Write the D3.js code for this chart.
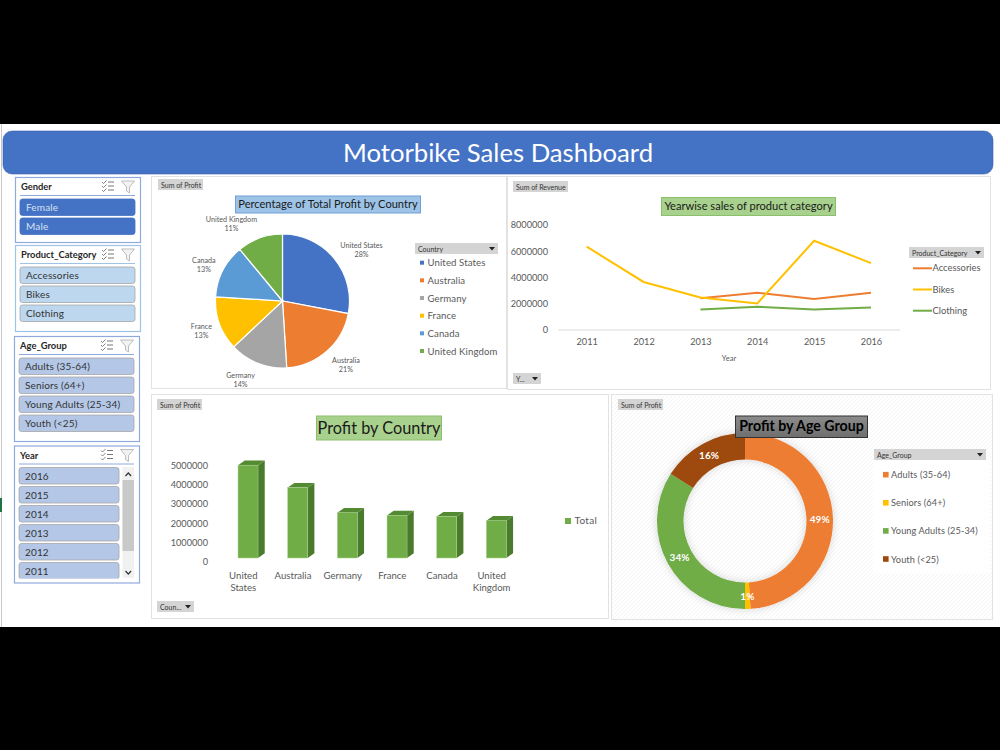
<!DOCTYPE html>
<html>
<head>
<meta charset="utf-8">
<title>Motorbike Sales Dashboard</title>
<script src="https://cdn.jsdelivr.net/npm/d3@7/dist/d3.min.js"></script>
<style>
    html, body { margin: 0; padding: 0; background: #000; }
    svg { display: block; font-family: Lato, "Open Sans", sans-serif; }
</style>
</head>
<body>
<div id="chart"></div>
<script>
// Chart data
const countries = ['United States', 'Australia', 'Germany', 'France', 'Canada', 'United Kingdom'];
const countryShare = [28, 21, 14, 13, 13, 11];
const countryProfit = [4800000, 3640000, 2340000, 2200000, 2140000, 1930000];
const countryColors = ['#4472C4', '#ED7D31', '#A5A5A5', '#FFC000', '#5B9BD5', '#70AD47'];

const years = ['2011', '2012', '2013', '2014', '2015', '2016'];
const accessories = [null, null, 2420000, 2830000, 2370000, 2830000];
const bikes = [6350000, 3660000, 2470000, 2020000, 6800000, 5100000];
const clothing = [null, null, 1560000, 1770000, 1560000, 1720000];
const revenueTicks = [0, 2000000, 4000000, 6000000, 8000000];
const profitTicks = [0, 1000000, 2000000, 3000000, 4000000, 5000000];

const ageGroups = ['Adults (35-64)', 'Seniors (64+)', 'Young Adults (25-34)', 'Youth (<25)'];
const ageShare = [49, 1, 34, 16];
const ageColors = ['#ED7D31', '#FFC000', '#70AD47', '#9E480E'];

const genders = ['Female', 'Male'];
const productCategories = ['Accessories', 'Bikes', 'Clothing'];

const svg = d3.select('#chart').append('svg').attr('width', 1000).attr('height', 750);
const defs = svg.append('defs');

// Faint hatch behind the donut panel
const hatch = defs.append('pattern').attr('id', 'hatch')
    .attr('width', 4).attr('height', 4).attr('patternUnits', 'userSpaceOnUse');
hatch.append('rect').attr('width', 4).attr('height', 4).attr('fill', '#fff');
hatch.append('path').attr('d', 'M0,4L4,0').attr('stroke', '#f4f4f4').attr('stroke-width', 1);

const ringShadow = defs.append('filter').attr('id', 'ringShadow')
    .attr('x', '-20%').attr('y', '-20%').attr('width', '140%').attr('height', '140%');
ringShadow.append('feDropShadow').attr('dx', 0).attr('dy', 0).attr('stdDeviation', 4)
    .attr('flood-color', '#000').attr('flood-opacity', 0.16);

const titleGrey = defs.append('linearGradient').attr('id', 'titleGrey')
    .attr('x1', 0).attr('y1', 0).attr('x2', 0).attr('y2', 1);
titleGrey.append('stop').attr('offset', '0%').attr('stop-color', '#8c8c8c');
titleGrey.append('stop').attr('offset', '100%').attr('stop-color', '#6e6e6e');

// Page background
svg.append('rect').attr('x', 0).attr('y', 124).attr('width', 1000).attr('height', 503).attr('fill', '#fff');
svg.append('rect').attr('x', 1).attr('y', 124).attr('width', 1).attr('height', 503).attr('fill', '#c8c8c8');
svg.append('rect').attr('x', 0).attr('y', 498).attr('width', 2).attr('height', 14).attr('fill', '#217346');

// Header banner
svg.append('rect').attr('x', 3).attr('y', 131).attr('width', 990).attr('height', 43)
    .attr('rx', 9).attr('fill', '#4472C4').attr('stroke', '#3a62a8').attr('stroke-width', 0.6);
svg.append('text').attr('x', 498).attr('y', 152).attr('text-anchor', 'middle')
    .attr('dominant-baseline', 'central').attr('font-size', 25.7).attr('fill', '#fff')
    .text('Motorbike Sales Dashboard');

// Panels
function panel(x, y, w, h, fill) {
    svg.append('rect').attr('x', x).attr('y', y).attr('width', w).attr('height', h)
        .attr('fill', fill || '#fff').attr('stroke', '#e2e2e2').attr('stroke-width', 1);
}
panel(151.5, 176.5, 355, 212);
panel(507.5, 176.5, 483, 213);
panel(151.5, 394.5, 457, 224);
panel(611.5, 394.5, 381, 225, 'url(#hatch)');

// Grey pivot field buttons
function fieldTag(x, y, w, h, label, arrow) {
    svg.append('rect').attr('x', x).attr('y', y).attr('width', w).attr('height', h).attr('fill', '#d4d4d4');
    svg.append('text').attr('x', x + 3).attr('y', y + h / 2).attr('dominant-baseline', 'central')
        .attr('font-size', 7).attr('fill', '#333').text(label);
    if (arrow) {
        const ax = x + w - 6, ay = y + h / 2;
        svg.append('path').attr('d', `M${ax - 3},${ay - 1.5}L${ax + 3},${ay - 1.5}L${ax},${ay + 2}Z`).attr('fill', '#222');
    }
}

// Coloured chart title boxes
function titleBox(x, y, w, h, label, size, fill, stroke, bold) {
    svg.append('rect').attr('x', x).attr('y', y).attr('width', w).attr('height', h)
        .attr('fill', fill).attr('stroke', stroke).attr('stroke-width', 1);
    svg.append('text').attr('x', x + w / 2).attr('y', y + h / 2 - 1).attr('text-anchor', 'middle')
        .attr('dominant-baseline', 'central').attr('font-size', size)
        .attr('font-weight', bold ? 700 : 400).attr('fill', bold ? '#000' : '#1a1a1a').text(label);
}

// Slicers
function slicer(y, h, x, title, items, opts) {
    const g = svg.append('g');
    g.append('rect').attr('x', x + 0.5).attr('y', y + 0.5).attr('width', 125).attr('height', h)
        .attr('fill', '#fff').attr('stroke', opts.border).attr('stroke-width', 1.2);
    g.append('text').attr('x', x + 6).attr('y', y + 9.5).attr('dominant-baseline', 'central')
        .attr('font-size', 9.4).attr('font-weight', 700).attr('fill', '#262626').text(title);
    g.append('line').attr('x1', x + 5).attr('x2', x + 120).attr('y1', y + 18.5).attr('y2', y + 18.5)
        .attr('stroke', opts.border).attr('stroke-width', 1);

    // multi-select icon
    const ix = x + 87, iy = y + 9;
    [-4, 0, 4].forEach(d => {
        g.append('path').attr('d', `M${ix},${iy + d}l1.5,1.5l3,-3`).attr('fill', 'none').attr('stroke', '#666').attr('stroke-width', 0.8);
        g.append('line').attr('x1', ix + 6).attr('x2', ix + 12).attr('y1', iy + d).attr('y2', iy + d).attr('stroke', '#666').attr('stroke-width', 0.9);
    });
    // clear-filter icon
    const fx = x + 106.5, fy = y + 4;
    g.append('path').attr('d', `M${fx},${fy}h13l-5,6v6l-3,-2v-4Z`).attr('fill', '#f2f2f2').attr('stroke', '#b5b5b5').attr('stroke-width', 0.9);

    const width = opts.width || 115;
    const clipId = 'clip' + title;
    defs.append('clipPath').attr('id', clipId).append('rect')
        .attr('x', x).attr('y', y).attr('width', 125).attr('height', opts.clipH || h);
    g.append('g').attr('clip-path', `url(#${clipId})`).selectAll('g').data(items).enter().append('g')
        .each(function(d, i) {
            const row = d3.select(this);
            const by = y + 22 + i * 19;
            row.append('rect').attr('x', x + 5).attr('y', by).attr('width', width).attr('height', 16.5).attr('rx', 2.5)
                .attr('fill', opts.fill).attr('stroke', opts.edge).attr('stroke-width', 0.8);
            row.append('text').attr('x', x + 11).attr('y', by + 8).attr('dominant-baseline', 'central')
                .attr('font-size', 10).attr('letter-spacing', 0.15).attr('fill', opts.text).text(d);
        });
    return g;
}
slicer(177, 65, 15, 'Gender', genders, { border: '#8FAADC', fill: '#4472C4', edge: '#4472C4', text: '#d6e2f5' });
slicer(245, 86, 15, 'Product_Category', productCategories, { border: '#9DC3E6', fill: '#BDD7EE', edge: '#a6a6a6', text: '#333' });
slicer(336, 105, 14, 'Age_Group', ageGroups, { border: '#8FAADC', fill: '#B4C7E7', edge: '#a6a6a6', text: '#333' });
const yearSlicer = slicer(445.5, 137, 14, 'Year', years.slice().reverse(), { border: '#8FAADC', fill: '#B4C7E7', edge: '#a6a6a6', text: '#333', width: 100, clipH: 133 });

// Scrollbar of the year slicer
yearSlicer.append('rect').attr('x', 122.5).attr('y', 467).attr('width', 11.5).attr('height', 111).attr('fill', '#f1f1f1');
yearSlicer.append('rect').attr('x', 122.5).attr('y', 480).attr('width', 11.5).attr('height', 71).attr('fill', '#c9c9c9');
yearSlicer.append('path').attr('d', 'M125.5,476l2.8,-3l2.8,3').attr('fill', 'none').attr('stroke', '#333').attr('stroke-width', 1.2);
yearSlicer.append('path').attr('d', 'M125.5,571l2.8,3l2.8,-3').attr('fill', 'none').attr('stroke', '#333').attr('stroke-width', 1.2);

// ---- Pie: percentage of profit by country ----
fieldTag(158, 179, 45, 11, 'Sum of Profit');
titleBox(235.5, 196, 185, 17, 'Percentage of Total Profit by Country', 11.1, '#9DC3E6', '#6f9fd8');

const pieCx = 282.5, pieCy = 301, pieR = 67;
const pieG = svg.append('g').attr('transform', `translate(${pieCx},${pieCy})`);
const pieArcs = d3.pie().sort(null)(countryShare);
const pieArc = d3.arc().innerRadius(0).outerRadius(pieR);
pieG.selectAll('path').data(pieArcs).enter().append('path')
    .attr('d', pieArc)
    .attr('fill', (d, i) => countryColors[i])
    .attr('stroke', '#fff').attr('stroke-width', 1.2);

// Labels sit just outside the rim, pushed away by half their own width
pieG.selectAll('g.label').data(pieArcs).enter().append('g').attr('class', 'label')
    .each(function(d, i) {
        const mid = (d.startAngle + d.endAngle) / 2;
        const g = d3.select(this);
        const name = g.append('text').attr('text-anchor', 'middle').attr('font-size', 7.2).attr('fill', '#595959')
            .attr('y', -4.5).attr('dominant-baseline', 'central').text(countries[i]);
        g.append('text').attr('text-anchor', 'middle').attr('font-size', 7.2).attr('fill', '#595959')
            .attr('y', 4.5).attr('dominant-baseline', 'central').text(d.value + '%');
        const half = name.node().getComputedTextLength() / 2;
        const dx = (pieR + 8) * Math.sin(mid) + Math.sign(Math.sin(mid)) * half;
        const dy = 1.5 - (pieR + 16) * Math.cos(mid);
        g.attr('transform', `translate(${dx},${dy})`);
    });

fieldTag(415, 243, 83, 11, 'Country', true);
const pieLegendY = d3.scalePoint().domain(countries).range([262.7, 351]);
countries.forEach((c, i) => {
    svg.append('rect').attr('x', 420).attr('y', pieLegendY(c) - 2).attr('width', 4).attr('height', 4).attr('fill', countryColors[i]);
    svg.append('text').attr('x', 427.5).attr('y', pieLegendY(c)).attr('dominant-baseline', 'central')
        .attr('font-size', 9.6).attr('letter-spacing', 0.1).attr('fill', '#595959').text(c);
});

// ---- Line: yearly revenue by product category ----
fieldTag(513, 181, 55, 11, 'Sum of Revenue');
titleBox(661.5, 197.5, 174, 18, 'Yearwise sales of product category', 11.1, '#A9D18E', '#8cbf6c');

const lineX = d3.scalePoint().domain(years).range([586.7, 871]);
const lineY = d3.scaleLinear().domain([0, 8000000]).range([330, 225]);

const lineAxisX = svg.append('g').attr('transform', 'translate(0,330)')
    .call(d3.axisBottom(lineX).tickSize(0).tickPadding(8));
lineAxisX.select('.domain').attr('d', 'M558,0H900').attr('stroke', '#d9d9d9');
lineAxisX.selectAll('text').attr('font-size', 9.2).attr('font-family', 'Lato').attr('fill', '#595959');

const lineAxisY = svg.append('g').attr('transform', 'translate(552,0)')
    .call(d3.axisLeft(lineY).tickValues(revenueTicks).tickFormat(d3.format('d')).tickSize(0).tickPadding(4));
lineAxisY.select('.domain').remove();
lineAxisY.selectAll('text').attr('font-size', 9.2).attr('font-family', 'Lato').attr('fill', '#595959');

svg.append('text').attr('x', 729).attr('y', 358).attr('text-anchor', 'middle').attr('dominant-baseline', 'central')
    .attr('font-size', 7.5).attr('fill', '#595959').text('Year');

const revenueLine = d3.line()
    .defined(d => d !== null)
    .x((d, i) => lineX(years[i]))
    .y(d => lineY(d));
const lineSeries = [
    { name: 'Accessories', values: accessories, color: '#ED7D31' },
    { name: 'Bikes', values: bikes, color: '#FFC000' },
    { name: 'Clothing', values: clothing, color: '#70AD47' }
];
svg.selectAll('path.series').data(lineSeries).enter().append('path').attr('class', 'series')
    .attr('d', d => revenueLine(d.values)).attr('fill', 'none')
    .attr('stroke', d => d.color).attr('stroke-width', 2);

fieldTag(909, 247, 75, 11, 'Product_Category', true);
const lineLegendY = d3.scalePoint().domain(lineSeries.map(d => d.name)).range([268.3, 310.7]);
lineSeries.forEach(s => {
    svg.append('line').attr('x1', 913).attr('x2', 932).attr('y1', lineLegendY(s.name)).attr('y2', lineLegendY(s.name))
        .attr('stroke', s.color).attr('stroke-width', 2);
    svg.append('text').attr('x', 932.5).attr('y', lineLegendY(s.name) - 0.5).attr('dominant-baseline', 'central')
        .attr('font-size', 9.4).attr('fill', '#595959').text(s.name);
});
fieldTag(513, 373, 28, 11, 'Y...', true);

// ---- 3D style bars: profit by country ----
fieldTag(157, 399, 45, 11, 'Sum of Profit');
titleBox(316.5, 416, 125, 24, 'Profit by Country', 16.3, '#A9D18E', '#8cbf6c');

const barX = d3.scaleBand().domain(countries).range([223.2, 521.2]);
const barY = d3.scaleLinear().domain([0, 5000000]).range([558, 461.3]);
const barW = 20, depthX = 6.7, depthY = 4.7;

const barAxisY = svg.append('g').attr('transform', 'translate(211,4)')
    .call(d3.axisLeft(barY).tickValues(profitTicks).tickFormat(d3.format('d')).tickSize(0).tickPadding(3));
barAxisY.select('.domain').remove();
barAxisY.selectAll('text').attr('font-size', 9.2).attr('font-family', 'Lato').attr('fill', '#595959');

const bars = svg.selectAll('g.bar').data(countryProfit).enter().append('g').attr('class', 'bar');
bars.each(function(d, i) {
    const g = d3.select(this);
    const x0 = barX(countries[i]) + (barX.bandwidth() - barW) / 2;
    const top = barY(d), base = barY(0);
    g.append('path').attr('fill', '#4A7A2C')
        .attr('d', `M${x0 + barW},${top}l${depthX},${-depthY}V${base - depthY}L${x0 + barW},${base}Z`);
    g.append('path').attr('fill', '#548A32')
        .attr('d', `M${x0},${top}l${depthX},${-depthY}h${barW}l${-depthX},${depthY}Z`);
    g.append('rect').attr('x', x0).attr('y', top).attr('width', barW).attr('height', base - top)
        .attr('fill', '#70AD47').attr('stroke', '#a9d18e').attr('stroke-width', 0.5);
});

// Country labels wrap on the space, and sit left of the bars as in the 3D view
countries.forEach(c => {
    const cx = barX(c) + barX.bandwidth() / 2 - 4.7;
    c.split(' ').forEach((w, r) => {
        svg.append('text').attr('x', cx).attr('y', 575 + r * 12).attr('text-anchor', 'middle')
            .attr('dominant-baseline', 'central').attr('font-size', 9.6)
            .attr('fill', '#595959').text(w);
    });
});
svg.append('rect').attr('x', 565).attr('y', 518).attr('width', 6).attr('height', 6).attr('fill', '#70AD47');
svg.append('text').attr('x', 574.5).attr('y', 520).attr('dominant-baseline', 'central')
    .attr('font-size', 10).attr('letter-spacing', 0.3).attr('fill', '#595959').text('Total');
fieldTag(157, 601, 37, 11, 'Coun...', true);

// ---- Donut: profit by age group ----
const donutCx = 745, donutCy = 521;
const donutG = svg.append('g').attr('transform', `translate(${donutCx},${donutCy})`);
const donutArcs = d3.pie().sort(null)(ageShare);
const donutArc = d3.arc().innerRadius(61.5).outerRadius(88);
donutG.append('g').attr('filter', 'url(#ringShadow)').selectAll('path').data(donutArcs).enter().append('path')
    .attr('d', donutArc)
    .attr('fill', (d, i) => ageColors[i]);
donutG.selectAll('text').data(donutArcs).enter().append('text')
    .attr('transform', d => `translate(${donutArc.centroid(d)})`)
    .attr('text-anchor', 'middle').attr('dominant-baseline', 'central')
    .attr('font-size', 10).attr('font-weight', 700).attr('fill', '#fff')
    .text(d => d.value + '%');

fieldTag(618, 399, 45, 11, 'Sum of Profit');
titleBox(735.5, 416, 132, 21.5, 'Profit by Age Group', 14.2, 'url(#titleGrey)', '#333', true);

svg.append('rect').attr('x', 873).attr('y', 460).attr('width', 117).attr('height', 113).attr('fill', '#fff');
fieldTag(874, 449, 112, 11, 'Age_Group', true);
const ageLegendY = d3.scalePoint().domain(ageGroups).range([474.7, 559]);
ageGroups.forEach((a, i) => {
    svg.append('rect').attr('x', 883).attr('y', ageLegendY(a) - 2.8).attr('width', 5.6).attr('height', 5.6).attr('fill', ageColors[i]);
    svg.append('text').attr('x', 891).attr('y', ageLegendY(a)).attr('dominant-baseline', 'central')
        .attr('font-size', 9.2).attr('letter-spacing', 0.1).attr('fill', '#595959').text(a);
});

// Black bands above and below the screenshot
svg.append('rect').attr('x', 0).attr('y', 0).attr('width', 1000).attr('height', 123).attr('fill', '#000');
svg.append('rect').attr('x', 0).attr('y', 627).attr('width', 1000).attr('height', 123).attr('fill', '#000');
</script>
</body>
</html>
